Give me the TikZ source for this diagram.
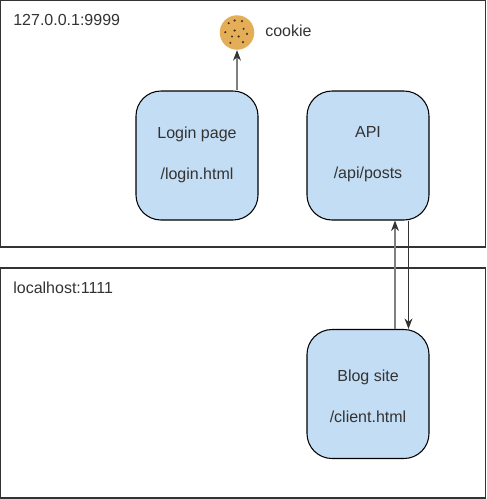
\documentclass[tikz,border=0pt]{standalone}
\usepackage{fontspec}
\setmainfont{Liberation Sans}
\usetikzlibrary{arrows.meta}
\definecolor{pageblue}{HTML}{C3DDF4}
\definecolor{cookiebase}{HTML}{E3AE57}
\definecolor{chipbrown}{HTML}{4A3020}
\definecolor{linegray}{HTML}{333333}
\begin{document}
\begin{tikzpicture}[
    origin/.style={draw=linegray, rectangle, line width=0.6pt, minimum width=9.7cm, inner sep=0pt},
    page/.style={draw=black, rectangle, rounded corners=0.5cm, fill=pageblue, line width=0.6pt, minimum width=2.44cm, minimum height=2.58cm, align=center, text=linegray, font=\fontsize{9.1pt}{11pt}\selectfont},
    lbl/.style={font=\fontsize{9.1pt}{11pt}\selectfont, text=linegray, inner sep=0pt},
    flow/.style={-{Stealth[length=6pt,width=4.5pt,color=linegray]}, line width=0.6pt}
]
\useasboundingbox (0, 0) rectangle (9.72, -9.98);

% Origins
\node[origin, minimum height=4.94cm] (top) at (4.86, -2.47) {};
\node[lbl, anchor=west] (toplbl) at (0.26, -0.4) {127.0.0.1:9999};

\node[origin, minimum height=4.6cm] (bot) at (4.86, -7.66) {};
\node[lbl, anchor=west] (botlbl) at (0.26, -5.76) {localhost:1111};

% Pages
\node[page] (login) at (3.94, -3.11) {Login page\\[0.43cm]/login.html\rule[-3pt]{0pt}{0pt}};
\node[page] (api) at (7.36, -3.11) {API\\[0.43cm]/api/posts\rule[-3pt]{0pt}{0pt}};
\node[page] (blog) at (7.36, -7.88) {\rule{0pt}{9.3pt}Blog site\\[0.43cm]/client.html};

% Cookie
\node[circle, fill=cookiebase, minimum size=0.69cm, inner sep=0pt] (cookie) at (4.74, -0.65) {};
\foreach \dx/\dy in {-.167/.187, -.047/.24, .1/.227, -.047/.04, .133/.073, .2/-.027, .033/-.08, -.1/-.08, -.133/-.207, .12/-.193, -.233/.007}
    \fill[chipbrown] ([shift={(\dx,\dy)}]cookie.center) circle (0.024);
\node[lbl, anchor=west] (cookielbl) at (5.3, -0.62) {cookie};

% Requests
\draw[flow, draw=gray] (login.north -| cookie) -- (cookie.south);
\draw[flow, draw=gray] ([xshift=0.54cm]blog.north) -- ([xshift=0.54cm]api.south);
\draw[flow, draw=linegray] ([xshift=0.81cm]api.south) -- ([xshift=0.81cm]blog.north);
\end{tikzpicture}
\end{document}
